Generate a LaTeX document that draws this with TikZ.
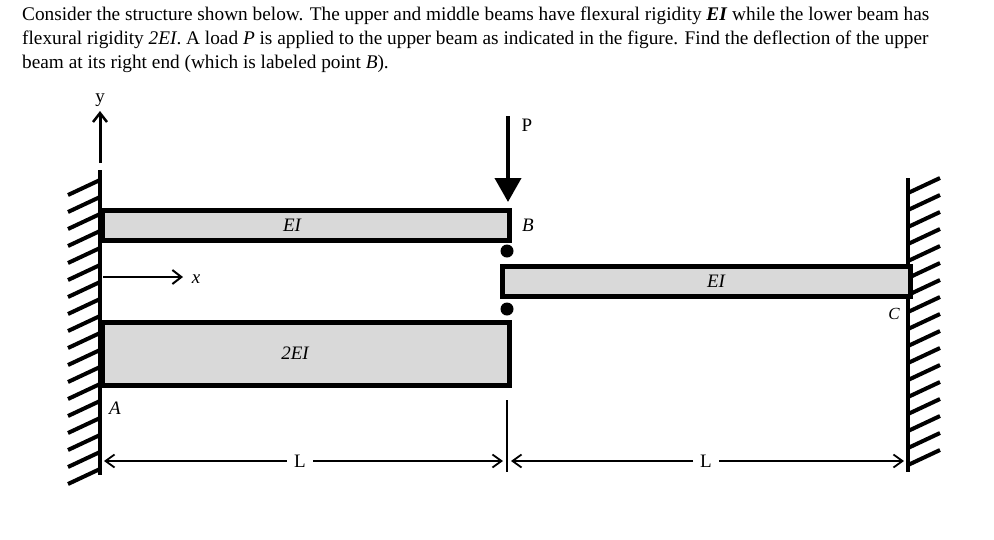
\documentclass[tikz,border=0pt]{standalone}
\usepackage{fontspec}
\setmainfont{Liberation Serif}
\usetikzlibrary{arrows.meta}
\begin{document}
\begin{tikzpicture}[x=1pt,y=-1pt,
  beam/.style={draw=black,line width=4.5pt,fill=black!15},
  wallline/.style={line width=4.5pt},
  hatch/.style={line width=4pt},
  dimarrow/.style={line width=1.6pt,-{Straight Barb[length=9pt,width=13pt,line width=1.8pt]}},
  lbl/.style={font=\fontsize{19}{22}\selectfont},
  ilbl/.style={font=\fontsize{19}{22}\selectfont\itshape},
  txt/.style={font=\fontsize{19.3}{24}\selectfont,anchor=north west,align=left,inner sep=0pt}]
\useasboundingbox (0,0) rectangle (994,539);
\node[txt] (prob) at (22,7) {Consider the structure shown below. The upper and middle beams have flexural rigidity \textit{\textbf{EI}} while the lower beam has\\flexural rigidity \textit{2EI}. A load \textit{P} is applied to the upper beam as indicated in the figure. Find the deflection of the upper\\beam at its right end (which is labeled point \textit{B}).};
% walls
\draw[wallline] (100,170) -- (100,475);
\foreach \y in {180,197,...,475} \draw[hatch] (100,\y) -- (68,\y+15);
\draw[wallline] (908,178) -- (908,472);
\foreach \y in {193,210,...,475} \draw[hatch] (908,\y) -- (940,\y-15);
% beams
\node[beam,minimum width=407pt,minimum height=30pt,inner sep=0pt,anchor=north west] (upper) at (100,208) {};
\node[beam,minimum width=408pt,minimum height=30pt,inner sep=0pt,anchor=north west] (middle) at (500,264) {};
\node[beam,minimum width=407pt,minimum height=63pt,inner sep=0pt,anchor=north west] (lower) at (100,320) {};
\fill (507,251) circle (6.5pt);
\fill (507,309) circle (6.5pt);
% load
\coordinate (ptop) at (508,116);
\coordinate (pend) at (508,202);
\draw[line width=4pt,-{Triangle[length=24pt,width=26pt]}] (ptop) -- (pend);
\node[lbl] (P) at (527,125) {P};
\node[ilbl] (B) at (528,225) {B};
\node[ilbl] at (292,225) {EI};
\node[ilbl] at (716,281) {EI};
\node[ilbl,font=\fontsize{17}{20}\selectfont\itshape] at (894,314) {C};
\node[ilbl] at (295,353) {2EI};
\node[ilbl] at (115,408) {A};
% axes
\coordinate (x0) at (103,277);
\coordinate (x1) at (183,277);
\draw[line width=2pt,-{Straight Barb[length=9pt,width=14pt,line width=2pt]}] (x0) -- (x1);
\node[ilbl] at (196,279) {x};
\coordinate (y0) at (100,163);
\coordinate (y1) at (100,111);
\draw[line width=3pt,-{Straight Barb[length=9pt,width=14pt,line width=2.5pt]}] (y0) -- (y1);
\node[lbl] at (100,100) {y};
% dimensions
\draw[line width=1.8pt] (507,400) -- (507,472);
\node[lbl,fill=white,inner sep=7pt] (L1) at (300,461) {L};
\node[lbl,fill=white,inner sep=7pt] (L2) at (706,461) {L};
\draw[dimarrow] (L1.west) -- (104,461);
\draw[dimarrow] (L1.east) -- (503,461);
\draw[dimarrow] (L2.west) -- (511,461);
\draw[dimarrow] (L2.east) -- (904,461);
\end{tikzpicture}
\end{document}
